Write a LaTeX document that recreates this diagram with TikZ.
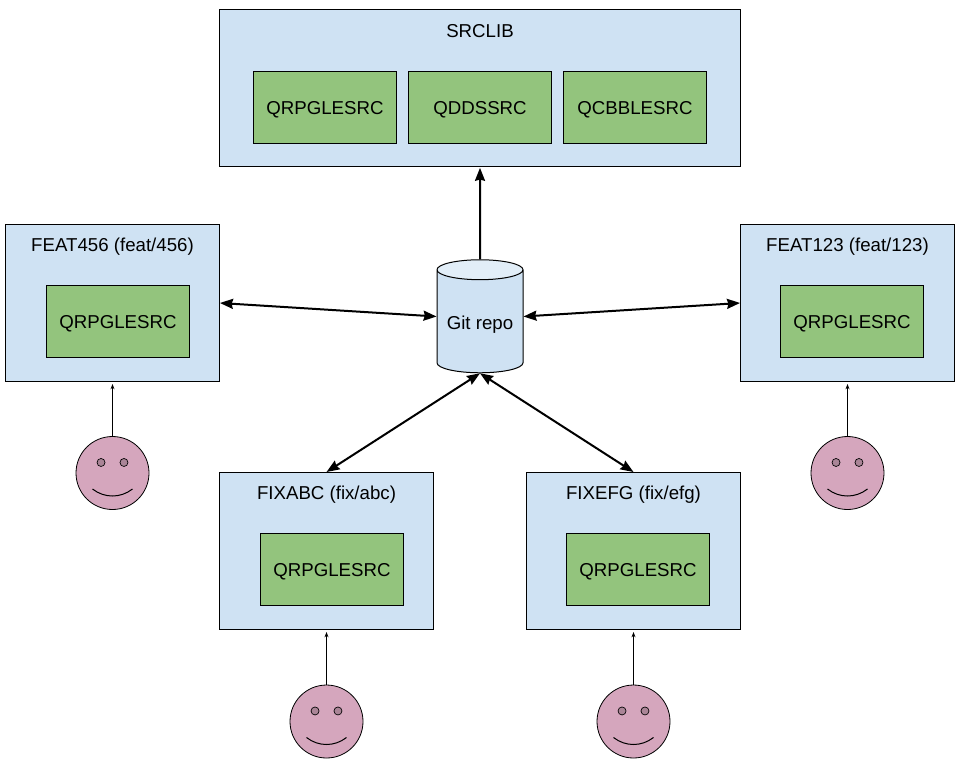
\documentclass[tikz,border=0pt]{standalone}
\usepackage{fontspec}
\setmainfont{Liberation Sans}
\usetikzlibrary{arrows.meta,shapes.geometric}
\definecolor{libblue}{HTML}{CFE2F3}
\definecolor{srcgreen}{HTML}{93C47D}
\definecolor{facepink}{HTML}{D5A6BD}
\definecolor{eyepink}{HTML}{AA8597}
\definecolor{cylend}{HTML}{E2EEF8}
\tikzset{
    libbox/.style={draw, fill=libblue, line width=0.75pt, inner sep=0, minimum width=160.5pt, minimum height=117.75pt},
    srcbox/.style={draw, fill=srcgreen, line width=0.75pt, inner sep=0, minimum width=107.25pt, minimum height=54pt, text height=10pt, text depth=0pt, font=\fontsize{14}{16}\selectfont},
    title/.style={inner sep=0, font=\fontsize{14}{16}\selectfont},
    link/.style={line width=1.5pt, {Stealth[length=9.75pt,width=7.5pt,inset=1pt]}-{Stealth[length=9.75pt,width=7.5pt,inset=1pt]}},
    uplink/.style={line width=1.5pt, -{Stealth[length=9.75pt,width=7.5pt,inset=1pt]}, shorten >=1pt},
    userlink/.style={line width=0.75pt, -{Stealth[length=4pt,width=3pt]}, shorten >=1.5pt},
    face/.style={draw, circle, fill=facepink, line width=0.6pt, inner sep=0, minimum size=54.75pt},
    eye/.style={draw, circle, fill=eyepink, line width=0.5pt, inner sep=0, minimum size=6pt},
}
\newcommand{\smiley}[1]{%
    \node[eye] (#1l) at ([xshift=-8.6pt,yshift=7.9pt]#1.center) {};
    \node[eye] (#1r) at ([xshift=8.6pt,yshift=7.9pt]#1.center) {};
    \draw[line width=0.75pt] ([xshift=-15pt,yshift=-12pt]#1.center) .. controls ([xshift=-6pt,yshift=-19pt]#1.center) and ([xshift=6pt,yshift=-19pt]#1.center) .. ([xshift=15pt,yshift=-12pt]#1.center);
}
\begin{document}
\begin{tikzpicture}[x=0.75pt,y=-0.75pt]
    \useasboundingbox (0,0) rectangle (967,768);
    % main library
    \node[libbox, minimum width=390.75pt] (srclib) at (480,87.5) {};
    \node[title] (srclibt) at (480,31) {SRCLIB};
    \node[srcbox] (srca) at (325,107.5) {QRPGLESRC};
    \node[srcbox] (srcb) at (480,107.5) {QDDSSRC};
    \node[srcbox] (srcc) at (635,107.5) {QCBBLESRC};
    % feature and fix libraries
    \node[libbox] (feat456) at (112.5,303) {};
    \node[title] (feat456t) at (112.5,247) {FEAT456 (feat/456)};
    \node[srcbox] (feat456s) at (118,321.5) {QRPGLESRC};
    \node[libbox] (feat123) at (847.5,303) {};
    \node[title] (feat123t) at (847.5,247) {FEAT123 (feat/123)};
    \node[srcbox] (feat123s) at (852,321.5) {QRPGLESRC};
    \node[libbox] (fixabc) at (326.5,551) {};
    \node[title] (fixabct) at (326.5,495) {FIXABC (fix/abc)};
    \node[srcbox] (fixabcs) at (332,569.5) {QRPGLESRC};
    \node[libbox] (fixefg) at (633.5,551) {};
    \node[title] (fixefgt) at (633.5,495) {FIXEFG (fix/efg)};
    \node[srcbox] (fixefgs) at (638,569.5) {QRPGLESRC};
    % repo
    \node[draw, cylinder, shape border rotate=90, shape aspect=0.3, line width=0.75pt, inner sep=0,
        minimum width=64.5pt, minimum height=84.75pt, cylinder uses custom fill,
        cylinder body fill=libblue, cylinder end fill=cylend, text height=15pt, text depth=3pt,
        font=\fontsize{14}{16}\selectfont] (gitrepo) at (480,321.5) {Git repo};
    % users
    \node[face] (userd) at (112.5,473) {};
    \node[face] (usera) at (847.5,473) {};
    \node[face] (userb) at (326.5,721.5) {};
    \node[face] (userc) at (633.5,721.5) {};
    \smiley{userd}
    \smiley{usera}
    \smiley{userb}
    \smiley{userc}
    % links
    \draw[uplink] (gitrepo.north) -- (srclib.south);
    \draw[link] ([yshift=3.75pt]gitrepo.west) -- (feat456.east);
    \draw[link] ([yshift=3.75pt]gitrepo.east) -- (feat123.west);
    \draw[link] (gitrepo.south) -- (fixabc.north);
    \draw[link] (gitrepo.south) -- (fixefg.north);
    \draw[userlink] (userd.north) -- (feat456.south);
    \draw[userlink] (usera.north) -- (feat123.south);
    \draw[userlink] (userb.north) -- (fixabc.south);
    \draw[userlink] (userc.north) -- (fixefg.south);
\end{tikzpicture}
\end{document}
